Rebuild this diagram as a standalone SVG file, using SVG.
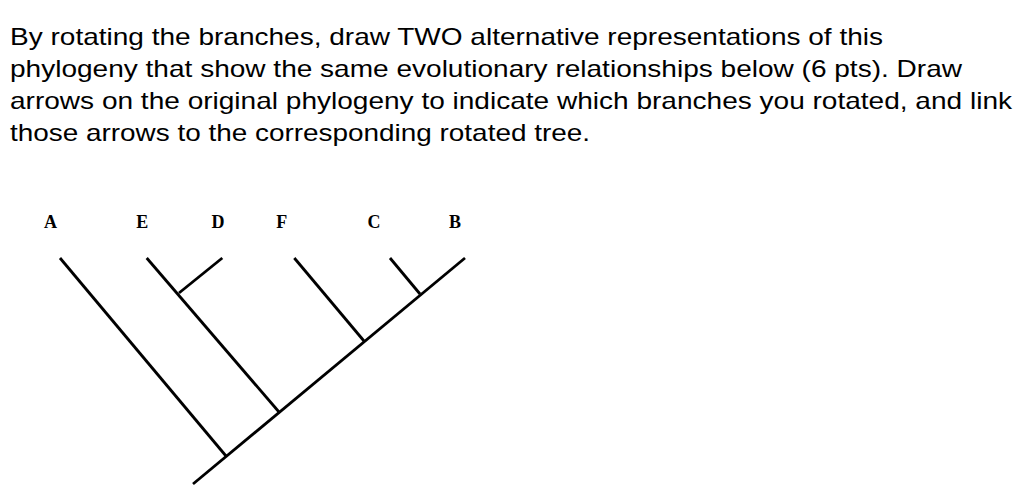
<svg xmlns="http://www.w3.org/2000/svg" width="1024" height="499" viewBox="0 0 1024 499">
<style>
.q{font-family:"Liberation Sans",Arial,sans-serif;font-size:24px;fill:#000}
.lbl{font-family:"Liberation Serif","Times New Roman",serif;font-size:18px;font-weight:bold;fill:#000;text-anchor:middle}
.br{stroke:#000;stroke-width:2.8;stroke-linecap:butt;fill:none}
</style>
<rect width="1024" height="499" fill="#fff"/>
<g id="question">
<text class="q" x="10" y="45" textLength="873" lengthAdjust="spacingAndGlyphs">By rotating the branches, draw TWO alternative representations of this</text>
<text class="q" x="10" y="77" textLength="952" lengthAdjust="spacingAndGlyphs">phylogeny that show the same evolutionary relationships below (6 pts). Draw</text>
<text class="q" x="10" y="109" textLength="1002" lengthAdjust="spacingAndGlyphs">arrows on the original phylogeny to indicate which branches you rotated, and link</text>
<text class="q" x="10" y="141" textLength="580" lengthAdjust="spacingAndGlyphs">those arrows to the corresponding rotated tree.</text>
</g>
<g id="labels">
<text class="lbl" x="50.5" y="228">A</text>
<text class="lbl" x="142.3" y="228">E</text>
<text class="lbl" x="218" y="228">D</text>
<text class="lbl" x="281.7" y="228">F</text>
<text class="lbl" x="374" y="228">C</text>
<text class="lbl" x="455" y="228">B</text>
</g>
<g id="connectors">
<line class="br" x1="193" y1="484" x2="465" y2="258"/>
<line class="br" x1="60" y1="258" x2="226" y2="456"/>
<line class="br" x1="146.7" y1="258" x2="279" y2="412"/>
<line class="br" x1="222.3" y1="258" x2="179" y2="293"/>
<line class="br" x1="294.3" y1="258" x2="364" y2="341"/>
<line class="br" x1="390" y1="258" x2="420" y2="294"/>
</g>
</svg>
